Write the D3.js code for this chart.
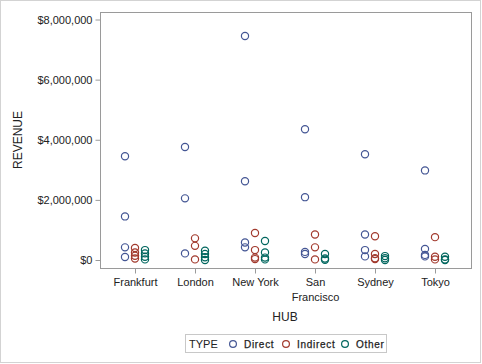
<!DOCTYPE html>
<html>
<head>
<meta charset="utf-8">
<script src="https://cdn.jsdelivr.net/npm/d3@7"></script>
<style>
  body { margin: 0; background: #fff; }
  text { font-family: Arial, "Liberation Sans", sans-serif; }
</style>
</head>
<body>
<svg id="chart" width="482" height="364"></svg>
<script>
const hubs = ["Frankfurt", "London", "New York", "San Francisco", "Sydney", "Tokyo"];
const types = ["Direct", "Indirect", "Other"];
const typeColors = ["#445694", "#A23A2E", "#01665E"];
const yTicks = [0, 2000000, 4000000, 6000000, 8000000];

// revenue values per hub (same order as hubs)
const directRevenue = [
  [3450000, 1450000, 420000, 100000],
  [3760000, 2050000, 220000],
  [7450000, 2620000, 580000, 420000],
  [4350000, 2090000, 270000, 200000],
  [3520000, 850000, 330000, 120000],
  [2980000, 370000, 170000, 120000]
];
const indirectRevenue = [
  [400000, 250000, 140000, 50000],
  [720000, 470000, 20000],
  [900000, 330000, 80000, 30000],
  [850000, 420000, 20000],
  [790000, 200000, 60000, 30000],
  [760000, 110000, 20000]
];
const otherRevenue = [
  [330000, 220000, 110000, 20000],
  [310000, 200000, 90000, 0],
  [630000, 250000, 80000, 20000],
  [200000, 50000, 10000],
  [130000, 60000, 0],
  [110000, 20000, 0]
];

const seriesByType = [directRevenue, indirectRevenue, otherRevenue];
const points = [];
seriesByType.forEach((s, ti) => {
  s.forEach((vals, hi) => {
    vals.forEach(v => points.push({ hub: hubs[hi], type: types[ti], value: v }));
  });
});

const svg = d3.select("#chart");
const W = 482, H = 364;
const plot = { left: 100, right: 471, top: 12, bottom: 268 };

// outer border
svg.append("rect").attr("x", 0.5).attr("y", 0.5).attr("width", W - 2).attr("height", H - 2)
  .attr("fill", "none").attr("stroke", "#d3d3d3");

const x = d3.scalePoint().domain(hubs).range([135, 435]);
const xSub = d3.scalePoint().domain(types).range([-10, 10]);
const y = d3.scaleLinear().domain([0, 8000000]).range([260, 19.5]);
const color = d3.scaleOrdinal().domain(types).range(typeColors);

// frame
svg.append("rect").attr("x", plot.left + 0.5).attr("y", plot.top + 0.5)
  .attr("width", plot.right - plot.left).attr("height", plot.bottom - plot.top)
  .attr("fill", "none").attr("stroke", "#9a9a9a");

// y axis
const yAxis = d3.axisLeft(y).tickValues(yTicks).tickSize(5).tickPadding(3)
  .tickFormat(d => "$" + d3.format(",")(d));
const gy = svg.append("g").attr("transform", `translate(${plot.left + 0.5},0)`).call(yAxis);
gy.select(".domain").remove();
gy.selectAll("line").attr("stroke", "#9a9a9a");
gy.selectAll("text").attr("font-size", 11).attr("fill", "#222");

// x axis
const xAxis = d3.axisBottom(x).tickSize(5).tickPadding(5);
const gx = svg.append("g").attr("transform", `translate(0,${plot.bottom + 0.5})`).call(xAxis);
gx.select(".domain").remove();
gx.selectAll("line").attr("stroke", "#9a9a9a");
gx.selectAll("text").attr("font-size", 11).attr("fill", "#222").each(function(d) {
  const t = d3.select(this);
  const words = d.split(" ");
  if (d === "San Francisco") {
    t.text(null);
    words.forEach((w, i) => t.append("tspan").attr("x", 0).attr("dy", i === 0 ? "0.71em" : "1.3em").text(w));
  }
});

// axis labels
svg.append("text").attr("transform", "translate(22,140) rotate(-90)")
  .attr("text-anchor", "middle").attr("font-size", 12).attr("fill", "#222").text("REVENUE");
svg.append("text").attr("x", 285).attr("y", 321)
  .attr("text-anchor", "middle").attr("font-size", 12).attr("fill", "#222").text("HUB");

// points
svg.append("g").selectAll("circle").data(points).join("circle")
  .attr("cx", d => x(d.hub) + xSub(d.type))
  .attr("cy", d => y(d.value))
  .attr("r", 3.6)
  .attr("fill", "none")
  .attr("stroke", d => color(d.type))
  .attr("stroke-width", 1.2);

// legend
const lg = svg.append("g");
lg.append("rect").attr("x", 185.5).attr("y", 334.5).attr("width", 201).attr("height", 18)
  .attr("fill", "none").attr("stroke", "#c8c8c8");
lg.append("text").attr("x", 189).attr("y", 348).attr("font-size", 11).attr("fill", "#222").text("TYPE");
const legX = [233, 286, 345];
types.forEach((t, i) => {
  lg.append("circle").attr("cx", legX[i]).attr("cy", 344).attr("r", 3.4)
    .attr("fill", "none").attr("stroke", color(t)).attr("stroke-width", 1.2);
  lg.append("text").attr("x", legX[i] + 11).attr("y", 347.5).attr("font-size", 10)
    .attr("letter-spacing", "0.7px").attr("stroke", "#222").attr("stroke-width", 0.25)
    .attr("fill", "#222").text(t);
});
</script>
</body>
</html>
